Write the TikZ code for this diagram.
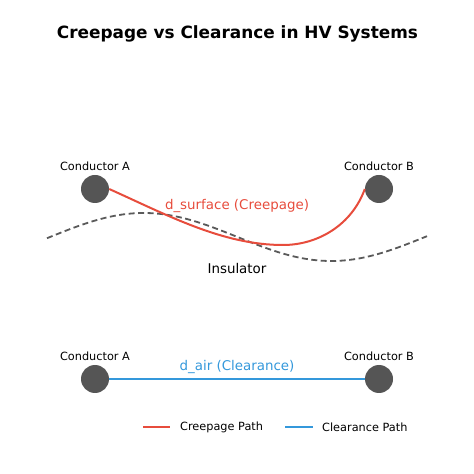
\documentclass[tikz,border=0pt]{standalone}
\usepackage{fontspec}
\setmainfont{DejaVu Sans}
\usetikzlibrary{positioning,calc}
\definecolor{creepred}{HTML}{E74C3C}
\definecolor{airblue}{HTML}{3498DB}
\definecolor{condgray}{HTML}{555555}
\definecolor{insgray}{HTML}{5A5A5A}

\begin{document}
\begin{tikzpicture}[
        x=1pt, y=1pt,
        cond/.style={circle, fill=condgray, minimum size=28pt, inner sep=0pt},
        condlbl/.style={font=\fontsize{11.3}{13}\selectfont, inner sep=0pt},
        pathlbl/.style={font=\fontsize{13.4}{16}\selectfont, inner sep=0pt},
        leglbl/.style={font=\fontsize{11.3}{13}\selectfont, inner sep=0pt, anchor=west},
        creep/.style={creepred, line width=2pt},
        clear/.style={airblue, line width=2pt},
        insul/.style={insgray, line width=1.8pt, dash pattern=on 6pt off 3.5pt},
    ]
    \useasboundingbox (0,0) rectangle (474,474);

    % ----- Title -----
    \node[font=\fontsize{16.9}{20}\selectfont\bfseries, inner sep=0pt] (title) at (237.5,440) {Creepage vs Clearance in HV Systems};

    % ----- Creepage along the insulator surface -----
    \draw[insul] plot[domain=47:427, samples=80, smooth] (\x, {237 + 24*sin(0.96*(\x-50))});
    \node[pathlbl] (inslbl) at (237,205.5) {Insulator};

    \node[cond] (condAtop) at (95,285) {};
    \node[cond] (condBtop) at (379,285) {};
    \node[condlbl, above=4pt of condAtop] (lblAtop) {Conductor A};
    \node[condlbl, above=4pt of condBtop] (lblBtop) {Conductor B};

    \coordinate (creepbot) at (283,229);
    \draw[creep] (condAtop.east) .. controls +(60,-27) and +(-60,0) .. (creepbot)
        .. controls +(35,0) and +(-13,-36) .. (condBtop.west);
    \node[pathlbl, text=creepred] (creeplbl) at ($(condAtop)!0.5!(condBtop)+(0,-16.5)$) {d\_surface (Creepage)};

    % ----- Clearance through air -----
    \node[cond] (condAbot) at (95,95) {};
    \node[cond] (condBbot) at (379,95) {};
    \node[condlbl, above=4pt of condAbot] (lblAbot) {Conductor A};
    \node[condlbl, above=4pt of condBbot] (lblBbot) {Conductor B};

    \draw[clear] (condAbot) -- node[pathlbl, text=airblue, above=4.5pt] (airlbl) {d\_air (Clearance)} (condBbot);

    % ----- Legend -----
    \coordinate (legredA) at (143,47);
    \coordinate (legredB) at (170,47);
    \coordinate (legblueA) at (285,47);
    \coordinate (legblueB) at (313,47);
    \draw[creep] (legredA) -- (legredB);
    \node[leglbl, right=10pt of legredB] (legcreep) {Creepage Path};
    \draw[clear] (legblueA) -- (legblueB);
    \node[leglbl, right=9pt of legblueB] (legclear) {Clearance Path};

\end{tikzpicture}
\end{document}
